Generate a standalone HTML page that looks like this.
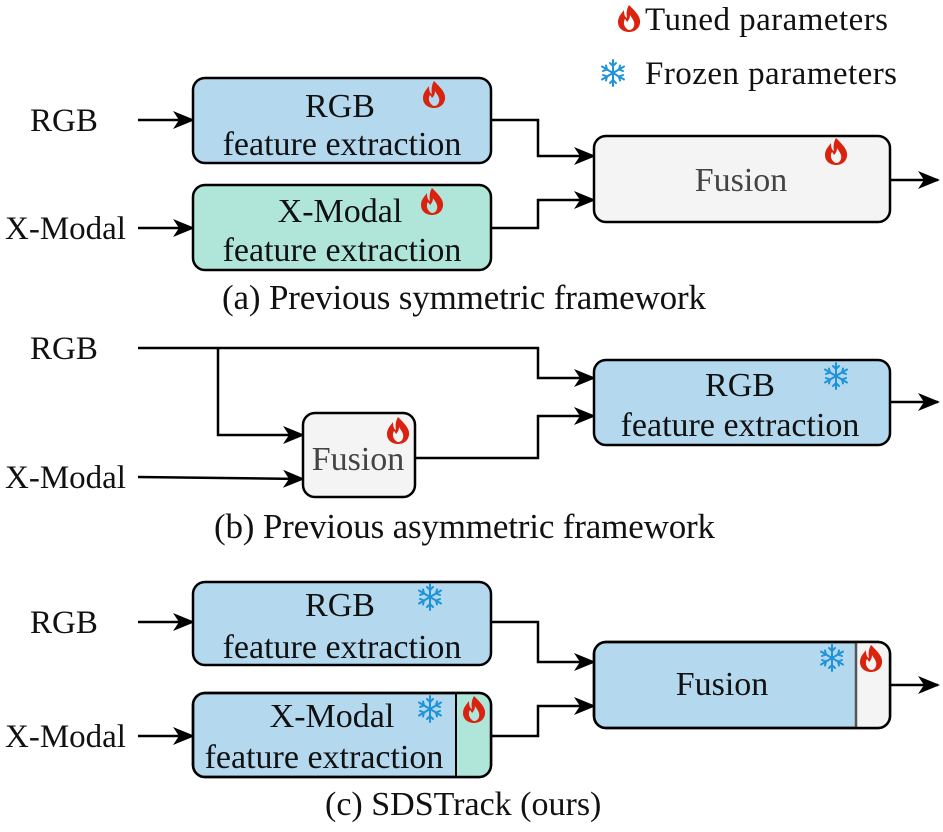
<!DOCTYPE html>
<html><head><meta charset="utf-8"><style>
html,body{margin:0;padding:0;background:#fff}
svg text{font-family:"Liberation Serif",serif;fill:#111}
</style></head><body>
<svg width="943" height="827" viewBox="0 0 943 827" xmlns="http://www.w3.org/2000/svg">
<defs>
<marker id="ah" markerWidth="22" markerHeight="18" refX="20" refY="9" orient="auto" markerUnits="userSpaceOnUse" viewBox="0 0 22 18">
<path d="M0,0 L22,9 L0,18 L6,9 z" fill="#000"/></marker>
<g id="fire"><path d="M0,-13 C7,-6 12,-1 11,5 C10,12 4,14 0,14 C-5,14 -11,11 -11,4 C-11,-1 -8,-4 -5,-8 C-5,-3 -4,-1 -2,0 C-3,-5 -2,-10 0,-13 Z M0,12 C4,12 6,8 5,4 C4,1 2,-1 1,-3 C1,1 -1,3 -2,4 C-3,2 -4,1 -4,1 C-6,4 -5,8 -3,10 C-2,11 -1,12 0,12Z" fill="#d9230f" fill-rule="evenodd"/></g>
<g id="snow" stroke="#1f93d9" stroke-width="2" fill="none" stroke-linecap="round">
<line x1="0" y1="-13" x2="0" y2="13"/><line x1="-11" y1="-6.5" x2="11" y2="6.5"/><line x1="-11" y1="6.5" x2="11" y2="-6.5"/>
<path d="M-3,-10 L0,-7 L3,-10 M-3,10 L0,7 L3,10 M-10,-2 L-6,-3.5 L-7,-7.5 M10,2 L6,3.5 L7,7.5 M-10,2 L-6,3.5 L-7,7.5 M10,-2 L6,-3.5 L7,-7.5"/></g>
</defs>
<g stroke="#000" stroke-width="2.5" fill="none">
<line x1="138" y1="120" x2="193" y2="120" marker-end="url(#ah)"/>
<line x1="138" y1="228" x2="193" y2="228" marker-end="url(#ah)"/>
<polyline points="491,120 538,120 538,156 594,156" marker-end="url(#ah)"/>
<polyline points="491,228 538,228 538,200 594,200" marker-end="url(#ah)"/>
<line x1="890" y1="180" x2="938" y2="180" marker-end="url(#ah)"/>
<polyline points="138,348 538,348 538,378 594,378" marker-end="url(#ah)"/>
<polyline points="218,348 218,435 303,435" marker-end="url(#ah)"/>
<line x1="138" y1="477" x2="303" y2="479" marker-end="url(#ah)"/>
<polyline points="415,458 538,458 538,416 594,416" marker-end="url(#ah)"/>
<line x1="890" y1="402" x2="938" y2="402" marker-end="url(#ah)"/>
<line x1="138" y1="622" x2="193" y2="622" marker-end="url(#ah)"/>
<line x1="138" y1="736" x2="193" y2="736" marker-end="url(#ah)"/>
<polyline points="491,622 538,622 538,662 594,662" marker-end="url(#ah)"/>
<polyline points="491,736 538,736 538,706 594,706" marker-end="url(#ah)"/>
<line x1="890" y1="685" x2="938" y2="685" marker-end="url(#ah)"/>
</g>
<g stroke="#000" stroke-width="2.5">
<rect x="193" y="78" width="298" height="85" rx="12" fill="#b4d9ef"/>
<rect x="193" y="185" width="298" height="85" rx="12" fill="#b0e6da"/>
<rect x="594" y="136" width="296" height="86" rx="12" fill="#f4f4f4"/>
<rect x="303" y="413" width="112" height="84" rx="12" fill="#f4f4f4"/>
<rect x="594" y="360" width="296" height="85" rx="12" fill="#b4d9ef"/>
<rect x="193" y="582" width="298" height="83" rx="12" fill="#b4d9ef"/>
<rect x="193" y="693" width="298" height="84" rx="12" fill="#b4d9ef"/>
<rect x="594" y="642" width="296" height="86" rx="12" fill="#b4d9ef"/>
</g>
<path d="M456,694 H479 A11,11 0 0 1 490,705 V765 A11,11 0 0 1 479,776 H456 Z" fill="#b0e6da"/>
<line x1="456" y1="694" x2="456" y2="777" stroke="#000" stroke-width="2"/>
<rect x="193" y="693" width="298" height="84" rx="12" fill="none" stroke="#000" stroke-width="2.5"/>
<path d="M856,643 H878 A11,11 0 0 1 889,654 V716 A11,11 0 0 1 878,727 H856 Z" fill="#f4f4f4"/>
<line x1="856" y1="643" x2="856" y2="728" stroke="#555" stroke-width="2.5"/>
<rect x="594" y="642" width="296" height="86" rx="12" fill="none" stroke="#000" stroke-width="2.5"/>
<g font-size="34" text-anchor="middle">
<text x="340" y="117">RGB</text><text x="342" y="155">feature extraction</text>
<text x="340" y="222">X-Modal</text><text x="342" y="261">feature extraction</text>
<text x="741" y="191" style="fill:#444">Fusion</text>
<text x="358" y="470" style="fill:#444">Fusion</text>
<text x="740" y="396">RGB</text><text x="740" y="436">feature extraction</text>
<text x="340" y="616">RGB</text><text x="342" y="658">feature extraction</text>
<text x="332" y="727">X-Modal</text><text x="324" y="768">feature extraction</text>
<text x="722" y="695">Fusion</text>
</g>
<g font-size="33">
<text x="30" y="131">RGB</text><text x="5" y="239">X-Modal</text>
<text x="30" y="359">RGB</text><text x="5" y="488">X-Modal</text>
<text x="30" y="633">RGB</text><text x="5" y="747">X-Modal</text>
<text x="645" y="30" textLength="243">Tuned parameters</text>
<text x="645" y="84" textLength="252">Frozen parameters</text>
</g>
<g font-size="35">
<text x="222" y="309" textLength="484">(a) Previous  symmetric framework</text>
<text x="214" y="538" textLength="501">(b) Previous  asymmetric framework</text>
<text x="325" y="815" font-size="34">(c) SDSTrack (ours)</text>
</g>
<use href="#fire" x="629" y="18"/>
<use href="#snow" x="613" y="73"/>
<use href="#fire" x="434" y="94"/>
<use href="#fire" x="432" y="201"/>
<use href="#fire" x="836" y="151"/>
<use href="#fire" x="398" y="430"/>
<use href="#snow" x="836" y="376"/>
<use href="#snow" x="430" y="597"/>
<use href="#snow" x="430" y="709"/>
<use href="#fire" x="474" y="709"/>
<use href="#snow" x="832" y="658"/>
<use href="#fire" x="871" y="658"/>
</svg>
</body></html>
